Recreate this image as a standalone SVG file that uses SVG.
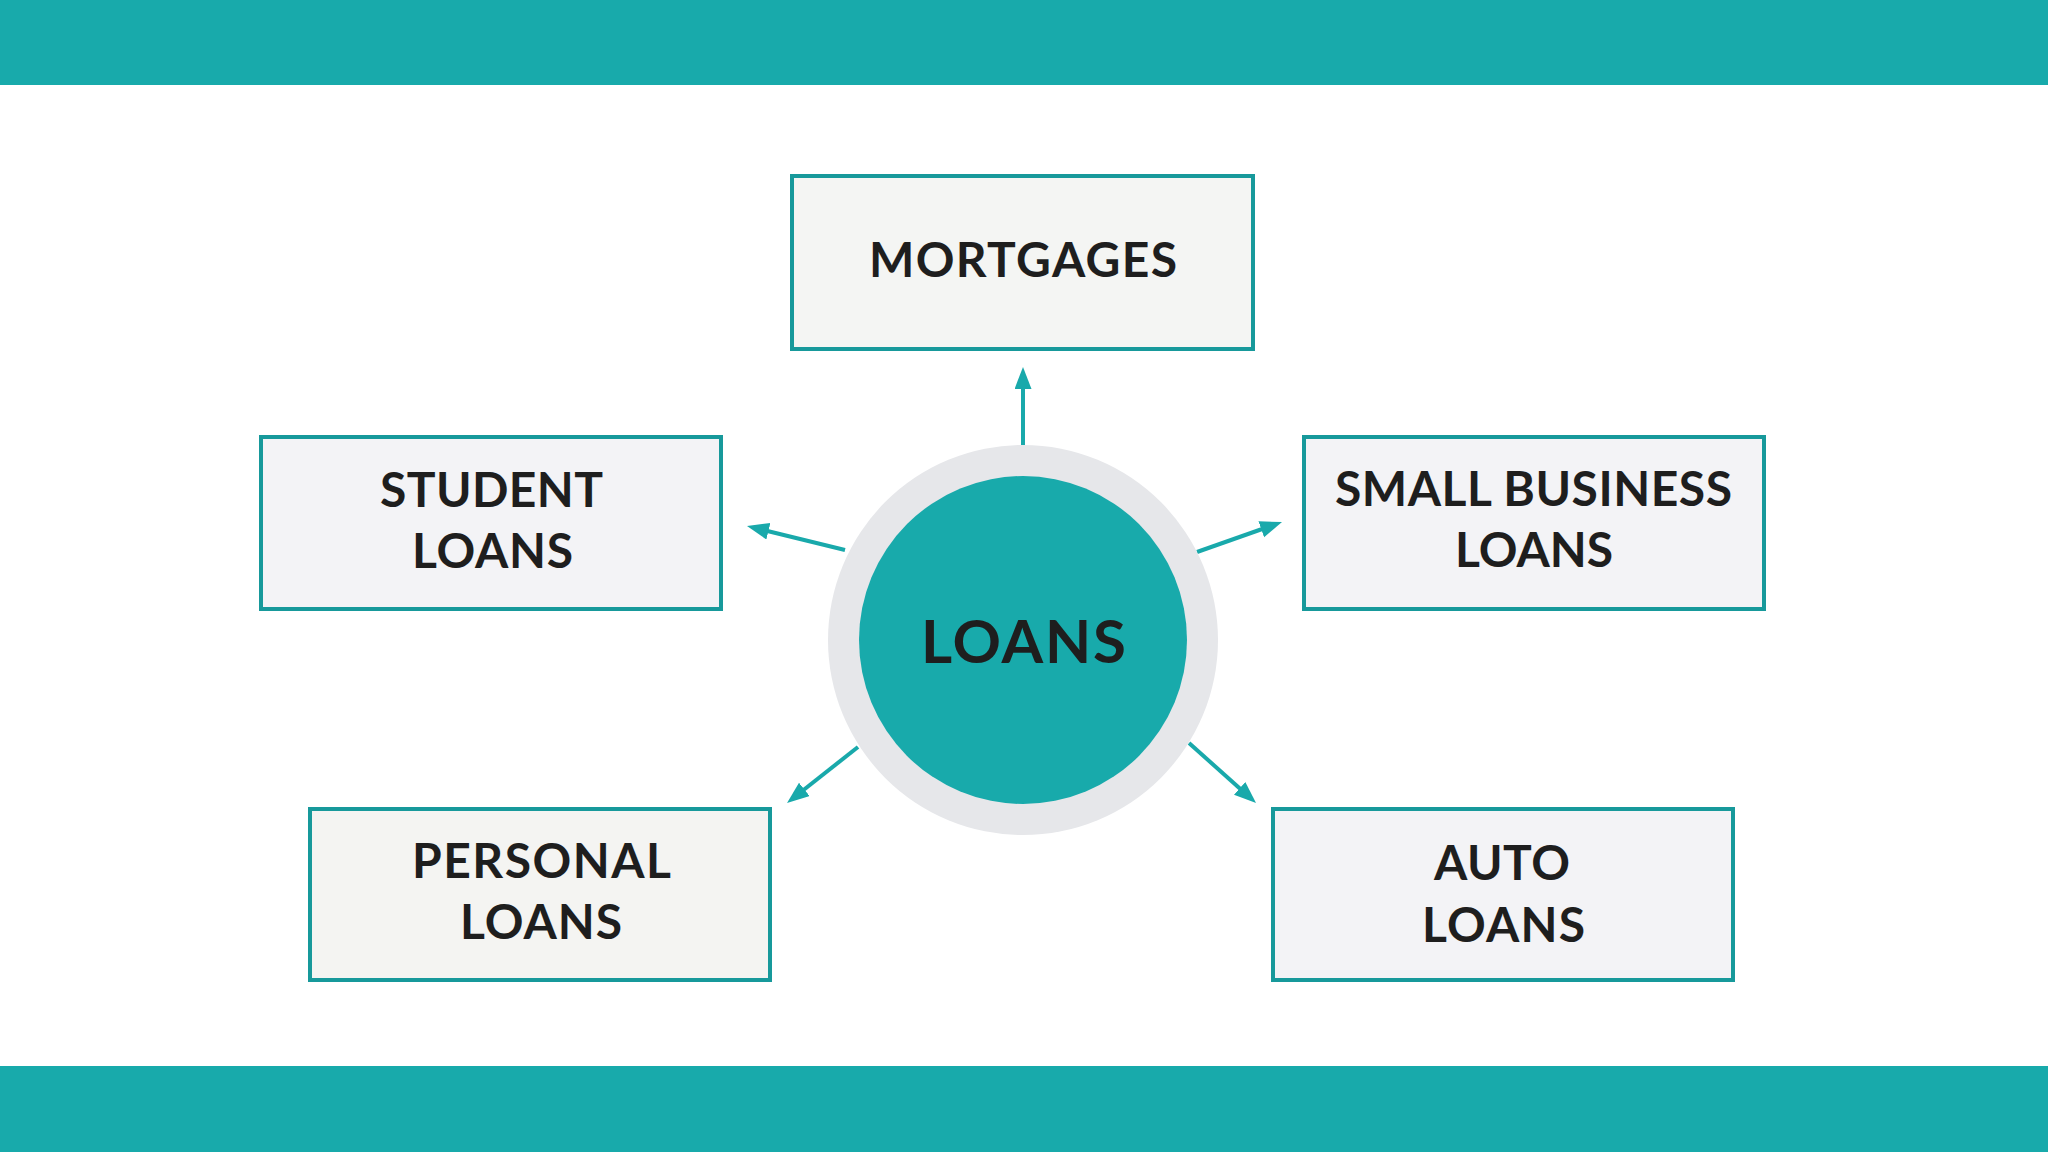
<svg xmlns="http://www.w3.org/2000/svg" width="2048" height="1152" viewBox="0 0 2048 1152">
  <defs>
    <style>
      .box { stroke: #17999b; stroke-width: 4; }
      .lbl { font-family: Lato, "Liberation Sans", sans-serif; font-weight: 700; font-size: 48px; fill: #1e1e1e; text-anchor: middle; }
      .big { font-size: 60px; }
      .conn { stroke: #19a9ab; stroke-width: 4; fill: none; marker-end: url(#arrow); }
    </style>
    <marker id="arrow" markerUnits="userSpaceOnUse" markerWidth="24" markerHeight="18" refX="1" refY="8.5" orient="auto">
      <path d="M0,0 L22,8.5 L0,17 Z" fill="#19a9ab"/>
    </marker>
  </defs>
  <rect x="0" y="0" width="2048" height="1152" fill="#ffffff"/>
  <rect x="0" y="0" width="2048" height="85" fill="#18aaab"/>
  <rect x="0" y="1066" width="2048" height="86" fill="#18aaab"/>

  <g id="connectors">
    <line class="conn" x1="1023" y1="445" x2="1023" y2="388"/>
    <line class="conn" x1="845" y1="550" x2="767.4" y2="531"/>
    <line class="conn" x1="1197" y1="552" x2="1262.2" y2="529"/>
    <line class="conn" x1="858" y1="747" x2="803.5" y2="790"/>
    <line class="conn" x1="1189" y1="743" x2="1240.4" y2="789"/>
  </g>

  <g id="loans">
    <circle cx="1023" cy="640" r="195" fill="#e6e7ea"/>
    <circle cx="1023" cy="640" r="164" fill="#18aaab"/>
    <text class="lbl big" x="1023.5" y="663" textLength="205" lengthAdjust="spacing">LOANS</text>
  </g>

  <g id="mortgages">
    <rect class="box" x="792" y="176" width="461" height="173" fill="#f4f5f3"/>
    <text class="lbl" x="1023" y="277" textLength="308" lengthAdjust="spacing">MORTGAGES</text>
  </g>

  <g id="student-loans">
    <rect class="box" x="261" y="437" width="460" height="172" fill="#f3f3f6"/>
    <text class="lbl" x="491.5" y="507" textLength="223" lengthAdjust="spacing">STUDENT</text>
    <text class="lbl" x="492.5" y="568" textLength="161" lengthAdjust="spacing">LOANS</text>
  </g>

  <g id="small-business-loans">
    <rect class="box" x="1304" y="437" width="460" height="172" fill="#f3f3f6"/>
    <text class="lbl" x="1533.5" y="506" textLength="397" lengthAdjust="spacing">SMALL BUSINESS</text>
    <text class="lbl" x="1534" y="567" textLength="158" lengthAdjust="spacing">LOANS</text>
  </g>

  <g id="personal-loans">
    <rect class="box" x="310" y="809" width="460" height="171" fill="#f4f4f2"/>
    <text class="lbl" x="541.5" y="878" textLength="259" lengthAdjust="spacing">PERSONAL</text>
    <text class="lbl" x="541" y="939" textLength="162" lengthAdjust="spacing">LOANS</text>
  </g>

  <g id="auto-loans">
    <rect class="box" x="1273" y="809" width="460" height="171" fill="#f3f3f6"/>
    <text class="lbl" x="1502" y="880" textLength="136" lengthAdjust="spacing">AUTO</text>
    <text class="lbl" x="1503.5" y="942" textLength="163" lengthAdjust="spacing">LOANS</text>
  </g>
</svg>
